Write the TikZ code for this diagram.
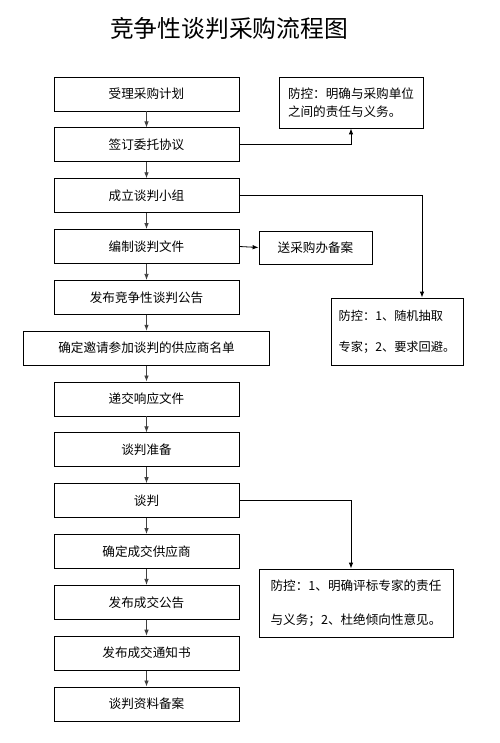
\documentclass[tikz,border=0pt]{standalone}
\usepackage{fontspec}
\setmainfont{Noto Sans CJK SC}
\usetikzlibrary{arrows.meta}

\begin{document}
\begin{tikzpicture}[x=1pt,y=-1pt,
  box/.style={draw, line width=0.8pt, minimum height=34pt, inner sep=0pt, font=\fontsize{12.6}{15}\selectfont},
  note/.style={draw, line width=0.8pt, inner sep=0pt, align=left},
  arr/.style={-{Latex[length=6pt,width=4.5pt]}, line width=0.8pt}]
\useasboundingbox (0,0) rectangle (499,743);
\node[font=\fontsize{23.8}{28}\selectfont] (title) at (229,28.5) {竞争性谈判采购流程图};
\foreach \i/\txt/\wid in {1/受理采购计划/185, 2/签订委托协议/185, 3/成立谈判小组/185, 4/编制谈判文件/185, 5/发布竞争性谈判公告/185, 6/确定邀请参加谈判的供应商名单/246, 7/递交响应文件/185, 8/谈判准备/185, 9/谈判/185, 10/确定成交供应商/185, 11/发布成交公告/185, 12/发布成交通知书/185, 13/谈判资料备案/185}{
  \node[box, minimum width=\wid pt] (b\i) at (146.5,{94+50.83*(\i-1)}) {\txt};}
\foreach \i in {1,...,12}{
  \pgfmathtruncatemacro\j{\i+1}
  \draw[arr, black!75] (b\i) -- (b\j);}
\node[box, minimum width=113pt, minimum height=33pt] (beian) at (315.5,247.5) {送采购办备案};
\node[note, minimum width=144pt, minimum height=51pt, font=\fontsize{12.6}{18}\selectfont] (fk1) at (351,102.5) {防控：明确与采购单位\\之间的责任与义务。};
\node[note, minimum width=132pt, minimum height=67pt, font=\fontsize{12.2}{31}\selectfont] (fk2) at (397,331.5) {防控：1、随机抽取\\专家；2、要求回避。};
\node[note, minimum width=194pt, minimum height=68pt, font=\fontsize{12.6}{34}\selectfont] (fk3) at (356,603) {防控：1、明确评标专家的责任\\与义务；2、杜绝倾向性意见。};
\draw[arr] (b2.east) -| (fk1.south);
\draw[arr] (b3.east) -| ([xshift=25pt]fk2.north);
\draw[arr] (b4.east) -- (beian.west);
\draw[arr] (b9.east) -| ([xshift=-5pt]fk3.north);
\end{tikzpicture}
\end{document}
